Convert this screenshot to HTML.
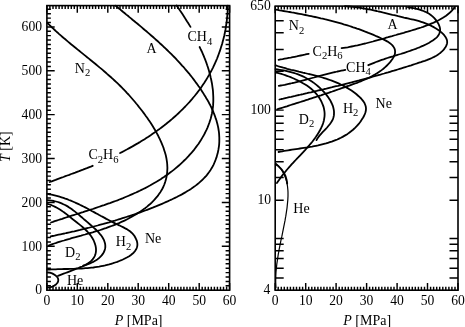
<!DOCTYPE html>
<html lang="en"><head><meta charset="utf-8"><title>Inversion curves</title>
<style>html,body{margin:0;padding:0;background:#fff}svg{display:block}</style></head>
<body><svg width="465" height="327" viewBox="0 0 465 327">
<rect width="465" height="327" fill="#fff"/>
<g stroke="#000" fill="none">
<rect x="46.9" y="5.6" width="182.7" height="284.6" stroke-width="1.6"/>
<rect x="275.2" y="6.1" width="182.8" height="284.1" stroke-width="1.6"/>
<path stroke-width="1.45" d="M46.9 290.2L46.9 283.0M46.9 5.6L46.9 12.8M49.9 290.2L49.9 286.7M49.9 5.6L49.9 9.1M53.0 290.2L53.0 286.7M53.0 5.6L53.0 9.1M56.0 290.2L56.0 286.7M56.0 5.6L56.0 9.1M59.1 290.2L59.1 286.7M59.1 5.6L59.1 9.1M62.1 290.2L62.1 286.7M62.1 5.6L62.1 9.1M65.2 290.2L65.2 286.7M65.2 5.6L65.2 9.1M68.2 290.2L68.2 286.7M68.2 5.6L68.2 9.1M71.3 290.2L71.3 286.7M71.3 5.6L71.3 9.1M74.3 290.2L74.3 286.7M74.3 5.6L74.3 9.1M77.3 290.2L77.3 283.0M77.3 5.6L77.3 12.8M80.4 290.2L80.4 286.7M80.4 5.6L80.4 9.1M83.4 290.2L83.4 286.7M83.4 5.6L83.4 9.1M86.5 290.2L86.5 286.7M86.5 5.6L86.5 9.1M89.5 290.2L89.5 286.7M89.5 5.6L89.5 9.1M92.6 290.2L92.6 286.7M92.6 5.6L92.6 9.1M95.6 290.2L95.6 286.7M95.6 5.6L95.6 9.1M98.7 290.2L98.7 286.7M98.7 5.6L98.7 9.1M101.7 290.2L101.7 286.7M101.7 5.6L101.7 9.1M104.8 290.2L104.8 286.7M104.8 5.6L104.8 9.1M107.8 290.2L107.8 283.0M107.8 5.6L107.8 12.8M110.8 290.2L110.8 286.7M110.8 5.6L110.8 9.1M113.9 290.2L113.9 286.7M113.9 5.6L113.9 9.1M116.9 290.2L116.9 286.7M116.9 5.6L116.9 9.1M120.0 290.2L120.0 286.7M120.0 5.6L120.0 9.1M123.0 290.2L123.0 286.7M123.0 5.6L123.0 9.1M126.1 290.2L126.1 286.7M126.1 5.6L126.1 9.1M129.1 290.2L129.1 286.7M129.1 5.6L129.1 9.1M132.2 290.2L132.2 286.7M132.2 5.6L132.2 9.1M135.2 290.2L135.2 286.7M135.2 5.6L135.2 9.1M138.2 290.2L138.2 283.0M138.2 5.6L138.2 12.8M141.3 290.2L141.3 286.7M141.3 5.6L141.3 9.1M144.3 290.2L144.3 286.7M144.3 5.6L144.3 9.1M147.4 290.2L147.4 286.7M147.4 5.6L147.4 9.1M150.4 290.2L150.4 286.7M150.4 5.6L150.4 9.1M153.5 290.2L153.5 286.7M153.5 5.6L153.5 9.1M156.5 290.2L156.5 286.7M156.5 5.6L156.5 9.1M159.6 290.2L159.6 286.7M159.6 5.6L159.6 9.1M162.6 290.2L162.6 286.7M162.6 5.6L162.6 9.1M165.7 290.2L165.7 286.7M165.7 5.6L165.7 9.1M168.7 290.2L168.7 283.0M168.7 5.6L168.7 12.8M171.7 290.2L171.7 286.7M171.7 5.6L171.7 9.1M174.8 290.2L174.8 286.7M174.8 5.6L174.8 9.1M177.8 290.2L177.8 286.7M177.8 5.6L177.8 9.1M180.9 290.2L180.9 286.7M180.9 5.6L180.9 9.1M183.9 290.2L183.9 286.7M183.9 5.6L183.9 9.1M187.0 290.2L187.0 286.7M187.0 5.6L187.0 9.1M190.0 290.2L190.0 286.7M190.0 5.6L190.0 9.1M193.1 290.2L193.1 286.7M193.1 5.6L193.1 9.1M196.1 290.2L196.1 286.7M196.1 5.6L196.1 9.1M199.2 290.2L199.2 283.0M199.2 5.6L199.2 12.8M202.2 290.2L202.2 286.7M202.2 5.6L202.2 9.1M205.2 290.2L205.2 286.7M205.2 5.6L205.2 9.1M208.3 290.2L208.3 286.7M208.3 5.6L208.3 9.1M211.3 290.2L211.3 286.7M211.3 5.6L211.3 9.1M214.4 290.2L214.4 286.7M214.4 5.6L214.4 9.1M217.4 290.2L217.4 286.7M217.4 5.6L217.4 9.1M220.5 290.2L220.5 286.7M220.5 5.6L220.5 9.1M223.5 290.2L223.5 286.7M223.5 5.6L223.5 9.1M226.6 290.2L226.6 286.7M226.6 5.6L226.6 9.1M229.6 290.2L229.6 283.0M229.6 5.6L229.6 12.8M275.2 290.2L275.2 283.0M275.2 6.1L275.2 13.3M278.2 290.2L278.2 286.7M278.2 6.1L278.2 9.6M281.3 290.2L281.3 286.7M281.3 6.1L281.3 9.6M284.3 290.2L284.3 286.7M284.3 6.1L284.3 9.6M287.4 290.2L287.4 286.7M287.4 6.1L287.4 9.6M290.4 290.2L290.4 286.7M290.4 6.1L290.4 9.6M293.5 290.2L293.5 286.7M293.5 6.1L293.5 9.6M296.5 290.2L296.5 286.7M296.5 6.1L296.5 9.6M299.6 290.2L299.6 286.7M299.6 6.1L299.6 9.6M302.6 290.2L302.6 286.7M302.6 6.1L302.6 9.6M305.7 290.2L305.7 283.0M305.7 6.1L305.7 13.3M308.7 290.2L308.7 286.7M308.7 6.1L308.7 9.6M311.8 290.2L311.8 286.7M311.8 6.1L311.8 9.6M314.8 290.2L314.8 286.7M314.8 6.1L314.8 9.6M317.9 290.2L317.9 286.7M317.9 6.1L317.9 9.6M320.9 290.2L320.9 286.7M320.9 6.1L320.9 9.6M323.9 290.2L323.9 286.7M323.9 6.1L323.9 9.6M327.0 290.2L327.0 286.7M327.0 6.1L327.0 9.6M330.0 290.2L330.0 286.7M330.0 6.1L330.0 9.6M333.1 290.2L333.1 286.7M333.1 6.1L333.1 9.6M336.1 290.2L336.1 283.0M336.1 6.1L336.1 13.3M339.2 290.2L339.2 286.7M339.2 6.1L339.2 9.6M342.2 290.2L342.2 286.7M342.2 6.1L342.2 9.6M345.3 290.2L345.3 286.7M345.3 6.1L345.3 9.6M348.3 290.2L348.3 286.7M348.3 6.1L348.3 9.6M351.4 290.2L351.4 286.7M351.4 6.1L351.4 9.6M354.4 290.2L354.4 286.7M354.4 6.1L354.4 9.6M357.5 290.2L357.5 286.7M357.5 6.1L357.5 9.6M360.5 290.2L360.5 286.7M360.5 6.1L360.5 9.6M363.6 290.2L363.6 286.7M363.6 6.1L363.6 9.6M366.6 290.2L366.6 283.0M366.6 6.1L366.6 13.3M369.6 290.2L369.6 286.7M369.6 6.1L369.6 9.6M372.7 290.2L372.7 286.7M372.7 6.1L372.7 9.6M375.7 290.2L375.7 286.7M375.7 6.1L375.7 9.6M378.8 290.2L378.8 286.7M378.8 6.1L378.8 9.6M381.8 290.2L381.8 286.7M381.8 6.1L381.8 9.6M384.9 290.2L384.9 286.7M384.9 6.1L384.9 9.6M387.9 290.2L387.9 286.7M387.9 6.1L387.9 9.6M391.0 290.2L391.0 286.7M391.0 6.1L391.0 9.6M394.0 290.2L394.0 286.7M394.0 6.1L394.0 9.6M397.1 290.2L397.1 283.0M397.1 6.1L397.1 13.3M400.1 290.2L400.1 286.7M400.1 6.1L400.1 9.6M403.2 290.2L403.2 286.7M403.2 6.1L403.2 9.6M406.2 290.2L406.2 286.7M406.2 6.1L406.2 9.6M409.3 290.2L409.3 286.7M409.3 6.1L409.3 9.6M412.3 290.2L412.3 286.7M412.3 6.1L412.3 9.6M415.3 290.2L415.3 286.7M415.3 6.1L415.3 9.6M418.4 290.2L418.4 286.7M418.4 6.1L418.4 9.6M421.4 290.2L421.4 286.7M421.4 6.1L421.4 9.6M424.5 290.2L424.5 286.7M424.5 6.1L424.5 9.6M427.5 290.2L427.5 283.0M427.5 6.1L427.5 13.3M430.6 290.2L430.6 286.7M430.6 6.1L430.6 9.6M433.6 290.2L433.6 286.7M433.6 6.1L433.6 9.6M436.7 290.2L436.7 286.7M436.7 6.1L436.7 9.6M439.7 290.2L439.7 286.7M439.7 6.1L439.7 9.6M442.8 290.2L442.8 286.7M442.8 6.1L442.8 9.6M445.8 290.2L445.8 286.7M445.8 6.1L445.8 9.6M448.9 290.2L448.9 286.7M448.9 6.1L448.9 9.6M451.9 290.2L451.9 286.7M451.9 6.1L451.9 9.6M455.0 290.2L455.0 286.7M455.0 6.1L455.0 9.6M458.0 290.2L458.0 283.0M458.0 6.1L458.0 13.3M46.9 285.8L50.9 285.8M229.6 285.8L225.6 285.8M46.9 281.4L50.9 281.4M229.6 281.4L225.6 281.4M46.9 277.0L50.9 277.0M229.6 277.0L225.6 277.0M46.9 272.6L50.9 272.6M229.6 272.6L225.6 272.6M46.9 268.2L50.9 268.2M229.6 268.2L225.6 268.2M46.9 263.8L50.9 263.8M229.6 263.8L225.6 263.8M46.9 259.4L50.9 259.4M229.6 259.4L225.6 259.4M46.9 255.0L50.9 255.0M229.6 255.0L225.6 255.0M46.9 250.7L50.9 250.7M229.6 250.7L225.6 250.7M46.9 246.3L54.7 246.3M229.6 246.3L221.8 246.3M46.9 241.9L50.9 241.9M229.6 241.9L225.6 241.9M46.9 237.5L50.9 237.5M229.6 237.5L225.6 237.5M46.9 233.1L50.9 233.1M229.6 233.1L225.6 233.1M46.9 228.7L50.9 228.7M229.6 228.7L225.6 228.7M46.9 224.3L50.9 224.3M229.6 224.3L225.6 224.3M46.9 219.9L50.9 219.9M229.6 219.9L225.6 219.9M46.9 215.6L50.9 215.6M229.6 215.6L225.6 215.6M46.9 211.2L50.9 211.2M229.6 211.2L225.6 211.2M46.9 206.8L50.9 206.8M229.6 206.8L225.6 206.8M46.9 202.4L54.7 202.4M229.6 202.4L221.8 202.4M46.9 198.0L50.9 198.0M229.6 198.0L225.6 198.0M46.9 193.6L50.9 193.6M229.6 193.6L225.6 193.6M46.9 189.2L50.9 189.2M229.6 189.2L225.6 189.2M46.9 184.8L50.9 184.8M229.6 184.8L225.6 184.8M46.9 180.4L50.9 180.4M229.6 180.4L225.6 180.4M46.9 176.1L50.9 176.1M229.6 176.1L225.6 176.1M46.9 171.7L50.9 171.7M229.6 171.7L225.6 171.7M46.9 167.3L50.9 167.3M229.6 167.3L225.6 167.3M46.9 162.9L50.9 162.9M229.6 162.9L225.6 162.9M46.9 158.5L54.7 158.5M229.6 158.5L221.8 158.5M46.9 154.1L50.9 154.1M229.6 154.1L225.6 154.1M46.9 149.7L50.9 149.7M229.6 149.7L225.6 149.7M46.9 145.3L50.9 145.3M229.6 145.3L225.6 145.3M46.9 141.0L50.9 141.0M229.6 141.0L225.6 141.0M46.9 136.6L50.9 136.6M229.6 136.6L225.6 136.6M46.9 132.2L50.9 132.2M229.6 132.2L225.6 132.2M46.9 127.8L50.9 127.8M229.6 127.8L225.6 127.8M46.9 123.4L50.9 123.4M229.6 123.4L225.6 123.4M46.9 119.0L50.9 119.0M229.6 119.0L225.6 119.0M46.9 114.6L54.7 114.6M229.6 114.6L221.8 114.6M46.9 110.2L50.9 110.2M229.6 110.2L225.6 110.2M46.9 105.9L50.9 105.9M229.6 105.9L225.6 105.9M46.9 101.5L50.9 101.5M229.6 101.5L225.6 101.5M46.9 97.1L50.9 97.1M229.6 97.1L225.6 97.1M46.9 92.7L50.9 92.7M229.6 92.7L225.6 92.7M46.9 88.3L50.9 88.3M229.6 88.3L225.6 88.3M46.9 83.9L50.9 83.9M229.6 83.9L225.6 83.9M46.9 79.5L50.9 79.5M229.6 79.5L225.6 79.5M46.9 75.1L50.9 75.1M229.6 75.1L225.6 75.1M46.9 70.7L54.7 70.7M229.6 70.7L221.8 70.7M46.9 66.4L50.9 66.4M229.6 66.4L225.6 66.4M46.9 62.0L50.9 62.0M229.6 62.0L225.6 62.0M46.9 57.6L50.9 57.6M229.6 57.6L225.6 57.6M46.9 53.2L50.9 53.2M229.6 53.2L225.6 53.2M46.9 48.8L50.9 48.8M229.6 48.8L225.6 48.8M46.9 44.4L50.9 44.4M229.6 44.4L225.6 44.4M46.9 40.0L50.9 40.0M229.6 40.0L225.6 40.0M46.9 35.6L50.9 35.6M229.6 35.6L225.6 35.6M46.9 31.3L50.9 31.3M229.6 31.3L225.6 31.3M46.9 26.9L54.7 26.9M229.6 26.9L221.8 26.9M46.9 22.5L50.9 22.5M229.6 22.5L225.6 22.5M46.9 18.1L50.9 18.1M229.6 18.1L225.6 18.1M46.9 13.7L50.9 13.7M229.6 13.7L225.6 13.7M46.9 9.3L50.9 9.3M229.6 9.3L225.6 9.3M275.2 20.8L283.7 20.8M458.0 20.8L449.5 20.8M275.2 32.7L283.7 32.7M458.0 32.7L449.5 32.7M275.2 49.5L283.7 49.5M458.0 49.5L449.5 49.5M275.2 71.2L283.7 71.2M458.0 71.2L449.5 71.2M275.2 110.1L283.7 110.1M458.0 110.1L449.5 110.1M275.2 116.3L283.7 116.3M458.0 116.3L449.5 116.3M275.2 123.2L283.7 123.2M458.0 123.2L449.5 123.2M275.2 130.6L283.7 130.6M458.0 130.6L449.5 130.6M275.2 139.2L283.7 139.2M458.0 139.2L449.5 139.2M275.2 149.7L283.7 149.7M458.0 149.7L449.5 149.7M275.2 161.8L283.7 161.8M458.0 161.8L449.5 161.8M275.2 177.5L283.7 177.5M458.0 177.5L449.5 177.5M275.2 200.3L283.7 200.3M458.0 200.3L449.5 200.3M275.2 238.5L283.7 238.5M458.0 238.5L449.5 238.5M275.2 244.2L283.7 244.2M458.0 244.2L449.5 244.2M275.2 250.8L283.7 250.8M458.0 250.8L449.5 250.8M275.2 258.5L283.7 258.5M458.0 258.5L449.5 258.5M275.2 268.2L283.7 268.2M458.0 268.2L449.5 268.2M275.2 278.0L283.7 278.0M458.0 278.0L449.5 278.0"/>
</g>
<g stroke="#000" fill="none" stroke-width="1.8" stroke-linecap="round" stroke-linejoin="round">
<path d="M47.5 23.2L49.0 24.6L50.4 25.9L51.8 27.3L53.3 28.7L54.7 30.0L56.2 31.4L57.7 32.7L59.2 34.1L60.7 35.4L62.2 36.7L63.7 38.0L65.3 39.3L66.8 40.6L68.3 41.9L69.9 43.2L71.4 44.5L73.0 45.8L74.5 47.0L76.1 48.3L77.7 49.6L79.2 50.8L80.8 52.1L82.4 53.4L83.9 54.6L85.5 55.9L87.1 57.2L88.6 58.4L90.2 59.7L91.8 61.0L93.3 62.2L94.9 63.5L96.4 64.8L98.0 66.1L99.5 67.4L101.1 68.6L102.6 69.9L104.1 71.2L105.6 72.5L107.1 73.9L108.6 75.2L110.1 76.5L111.6 77.8L113.1 79.2L114.5 80.5L116.0 81.9L117.4 83.2L118.9 84.6L120.3 86.0L121.7 87.4L123.1 88.8L124.4 90.2L125.8 91.6L127.1 93.1L128.5 94.5L129.8 96.0L131.1 97.5L132.4 99.0L133.7 100.5L135.0 102.0L136.2 103.5L137.5 105.0L138.7 106.6L140.0 108.2L141.2 109.7L142.4 111.3L143.6 112.9L144.8 114.5L146.0 116.2L147.2 117.8L148.3 119.5L149.4 121.1L150.6 122.8L151.7 124.5L152.8 126.3L153.8 128.0L154.9 129.8L155.9 131.6L156.9 133.4L157.9 135.2L158.8 137.1L159.7 138.9L160.6 140.8L161.4 142.7L162.2 144.6L163.0 146.5L163.7 148.4L164.3 150.4L164.9 152.3L165.5 154.3L166.0 156.2L166.4 158.2L166.7 160.1L167.0 162.1L167.2 164.0L167.3 166.0L167.4 167.9L167.3 169.9L167.2 171.8L167.0 173.8L166.7 175.7L166.4 177.6L165.9 179.5L165.4 181.3L164.8 183.2L164.1 185.0L163.3 186.8L162.5 188.5L161.5 190.2L160.5 191.9L159.4 193.5L158.3 195.1L157.1 196.7L155.8 198.2L154.5 199.7L153.1 201.2L151.7 202.6L150.2 204.0L148.6 205.3L147.1 206.6L145.5 207.9L143.8 209.1L142.2 210.3L140.5 211.5L138.7 212.6L137.0 213.7L135.3 214.8L133.5 215.8L131.7 216.8L129.9 217.8L128.1 218.8L126.3 219.7L124.5 220.6L122.7 221.4L120.8 222.2L119.0 223.1L117.1 223.8L115.3 224.6L113.4 225.3L111.6 226.0L109.7 226.7L107.8 227.4L105.9 228.1L104.0 228.7L102.2 229.3L100.3 230.0L98.4 230.6L96.5 231.1L94.6 231.7L92.7 232.3L90.8 232.8L88.9 233.4L87.0 233.9L85.1 234.5L83.1 235.0L81.2 235.6L79.3 236.1L77.4 236.6L75.5 237.2L73.6 237.7L71.6 238.2L69.7 238.8L67.8 239.3L65.9 239.9L64.0 240.5L62.0 241.0L60.1 241.6L58.2 242.2L56.3 242.9L54.3 243.5L52.4 244.1L50.5 244.8L48.6 245.5"/>
<path d="M115.4 5.6L117.0 6.9L118.6 8.2L120.1 9.4L121.7 10.7L123.2 12.0L124.8 13.3L126.3 14.6L127.9 15.8L129.4 17.1L131.0 18.4L132.5 19.7L134.1 21.0L135.6 22.3L137.2 23.5L138.7 24.8L140.3 26.1L141.8 27.4L143.3 28.7L144.8 30.0L146.4 31.3L147.9 32.6L149.4 33.9L150.9 35.2L152.4 36.5L153.9 37.8L155.4 39.2L156.9 40.5L158.4 41.8L159.8 43.2L161.3 44.5L162.8 45.9L164.2 47.3L165.7 48.6L167.1 50.0L168.5 51.4L170.0 52.8L171.4 54.2L172.8 55.6L174.2 57.0L175.6 58.4L176.9 59.9L178.3 61.3L179.7 62.8L181.0 64.3L182.3 65.8L183.7 67.2L185.0 68.8L186.3 70.3L187.6 71.8L188.9 73.3L190.1 74.9L191.4 76.5L192.6 78.0L193.8 79.6L195.0 81.2L196.2 82.9L197.4 84.5L198.6 86.2L199.8 87.8L200.9 89.5L202.0 91.2L203.1 92.9L204.2 94.7L205.3 96.4L206.3 98.2L207.4 99.9L208.4 101.7L209.3 103.5L210.3 105.3L211.2 107.2L212.0 109.0L212.9 110.9L213.6 112.7L214.4 114.6L215.1 116.5L215.7 118.4L216.4 120.3L216.9 122.2L217.4 124.1L217.9 126.1L218.3 128.0L218.6 130.0L218.9 131.9L219.1 133.9L219.2 135.9L219.3 137.8L219.3 139.8L219.3 141.8L219.2 143.8L219.0 145.8L218.7 147.8L218.4 149.7L218.0 151.7L217.6 153.6L217.0 155.5L216.5 157.4L215.8 159.3L215.1 161.2L214.3 163.0L213.5 164.8L212.6 166.5L211.6 168.2L210.6 169.9L209.5 171.5L208.4 173.0L207.2 174.6L206.0 176.1L204.6 177.5L203.3 178.9L201.9 180.3L200.4 181.6L199.0 182.9L197.4 184.2L195.9 185.4L194.3 186.6L192.6 187.7L191.0 188.9L189.3 190.0L187.5 191.0L185.8 192.1L184.0 193.1L182.3 194.1L180.5 195.1L178.6 196.0L176.8 197.0L175.0 197.9L173.1 198.8L171.3 199.7L169.4 200.5L167.6 201.4L165.7 202.2L163.9 203.0L162.0 203.8L160.1 204.6L158.3 205.4L156.4 206.2L154.6 206.9L152.7 207.7L150.8 208.4L148.9 209.1L147.1 209.8L145.2 210.5L143.3 211.2L141.4 211.9L139.6 212.6L137.7 213.2L135.8 213.9L133.9 214.5L132.0 215.2L130.1 215.8L128.2 216.4L126.3 217.0L124.4 217.6L122.5 218.2L120.6 218.8L118.7 219.4L116.8 220.0L114.9 220.6L113.0 221.1L111.1 221.7L109.2 222.3L107.2 222.8L105.3 223.3L103.4 223.9L101.5 224.4L99.5 224.9L97.6 225.5L95.7 226.0L93.7 226.5L91.8 227.0L89.9 227.5L87.9 228.0L86.0 228.4L84.0 228.9L82.1 229.4L80.1 229.9L78.2 230.3L76.2 230.8L74.3 231.3L72.3 231.7L70.4 232.2L68.4 232.6L66.4 233.0L64.5 233.5L62.5 233.9L60.5 234.3L58.6 234.7L56.6 235.1L54.6 235.6L52.7 236.0L50.7 236.4"/>
<path d="M176.6 5.5L177.8 7.3L179.0 9.0L180.2 10.8L181.4 12.5L182.6 14.3L183.7 16.1L184.9 17.9L186.0 19.7L187.1 21.5L188.3 23.3L189.4 25.1L190.5 26.9"/>
<path d="M199.6 47.0L200.4 48.7L201.3 50.5L202.1 52.2L202.9 54.1L203.7 55.9L204.4 57.7L205.2 59.6L205.9 61.5L206.6 63.4L207.2 65.3L207.9 67.3L208.5 69.2L209.1 71.2L209.6 73.2L210.2 75.2L210.6 77.2L211.1 79.2L211.5 81.2L211.9 83.2L212.2 85.2L212.5 87.3L212.8 89.3L213.0 91.3L213.1 93.3L213.2 95.3L213.3 97.4L213.3 99.4L213.3 101.4L213.2 103.4L213.1 105.4L212.9 107.3L212.6 109.3L212.3 111.2L212.0 113.2L211.6 115.1L211.1 117.0L210.6 118.9L210.0 120.8L209.4 122.6L208.7 124.5L208.0 126.3L207.3 128.1L206.5 129.9L205.6 131.7L204.7 133.5L203.8 135.2L202.8 136.9L201.8 138.6L200.8 140.3L199.7 142.0L198.6 143.7L197.4 145.3L196.2 146.9L195.0 148.5L193.8 150.1L192.5 151.6L191.2 153.2L189.8 154.7L188.5 156.2L187.1 157.7L185.7 159.1L184.2 160.5L182.8 161.9L181.3 163.3L179.8 164.7L178.3 166.0L176.8 167.3L175.2 168.6L173.7 169.9L172.1 171.1L170.5 172.3L168.9 173.5L167.3 174.7L165.6 175.8L164.0 177.0L162.3 178.1L160.7 179.2L159.0 180.2L157.3 181.3L155.6 182.3L153.8 183.3L152.1 184.3L150.4 185.3L148.6 186.2L146.8 187.2L145.1 188.1L143.3 189.0L141.5 189.9L139.7 190.8L137.9 191.6L136.0 192.5L134.2 193.3L132.4 194.1L130.5 194.9L128.7 195.7L126.8 196.5L125.0 197.3L123.1 198.1L121.2 198.8L119.4 199.5L117.5 200.3L115.6 201.0L113.7 201.7L111.8 202.4L109.9 203.1L108.0 203.7L106.1 204.4L104.2 205.1L102.3 205.7L100.3 206.4L98.4 207.0L96.5 207.7L94.6 208.3L92.7 209.0L90.8 209.6L88.8 210.2L86.9 210.8L85.0 211.4L83.1 212.1L81.2 212.7L79.3 213.3L77.4 213.9L75.5 214.5L73.6 215.1L71.6 215.7L69.7 216.3L67.9 216.9L66.0 217.5L64.1 218.1L62.2 218.8L60.3 219.4L58.4 220.0L56.6 220.6L54.7 221.2L52.9 221.9L51.0 222.5"/>
<path d="M227.8 5.6L227.8 7.6L227.7 9.6L227.6 11.6L227.5 13.6L227.3 15.6L227.1 17.6L226.9 19.6L226.7 21.6L226.4 23.6L226.1 25.6L225.8 27.6L225.5 29.5L225.1 31.5L224.7 33.5L224.3 35.5L223.8 37.4L223.3 39.4L222.8 41.3L222.3 43.3L221.7 45.2L221.1 47.1L220.5 49.0L219.9 50.9L219.2 52.8L218.5 54.7L217.8 56.6L217.1 58.5L216.3 60.3L215.5 62.2L214.7 64.0L213.8 65.8L213.0 67.6L212.1 69.4L211.1 71.2L210.2 72.9L209.2 74.7L208.2 76.4L207.2 78.1L206.2 79.8L205.1 81.5L204.0 83.2L202.9 84.8L201.8 86.5L200.7 88.1L199.5 89.7L198.3 91.3L197.1 92.9L195.8 94.5L194.6 96.0L193.3 97.5L192.0 99.1L190.7 100.6L189.4 102.1L188.1 103.5L186.7 105.0L185.3 106.5L183.9 107.9L182.5 109.3L181.1 110.7L179.6 112.1L178.2 113.5L176.7 114.9L175.2 116.2L173.7 117.5L172.2 118.9L170.6 120.2L169.1 121.5L167.5 122.7L166.0 124.0L164.4 125.3L162.8 126.5L161.2 127.7L159.6 128.9L157.9 130.1L156.3 131.3L154.6 132.5L153.0 133.6L151.3 134.8L149.6 135.9L148.0 137.0L146.3 138.1L144.6 139.2L142.8 140.3L141.1 141.3L139.4 142.4L137.7 143.4L135.9 144.4L134.2 145.4L132.5 146.4L130.7 147.4L128.9 148.4L127.2 149.3L125.4 150.2L123.6 151.2L121.9 152.1L120.1 153.0"/>
<path d="M92.7 165.8L90.8 166.6L88.8 167.3L86.9 168.1L84.9 168.8L83.0 169.6L81.0 170.3L79.1 171.1L77.1 171.8L75.2 172.6L73.2 173.3L71.2 174.0L69.3 174.8L67.3 175.5L65.4 176.2L63.4 177.0L61.5 177.7L59.5 178.4L57.5 179.1L55.6 179.9L53.6 180.6L51.7 181.3L49.7 182.0"/>
<path d="M47.5 193.9L49.5 194.3L51.6 194.7L53.6 195.1L55.6 195.6L57.6 196.1L59.5 196.7L61.5 197.3L63.4 197.9L65.3 198.6L67.1 199.2L69.0 200.0L70.8 200.7L72.7 201.5L74.5 202.3L76.3 203.1L78.1 203.9L79.9 204.8L81.6 205.6L83.4 206.5L85.2 207.4L86.9 208.3L88.7 209.3L90.4 210.2L92.2 211.2L94.0 212.1L95.7 213.1L97.5 214.0L99.2 215.0L101.0 216.0L102.8 216.9L104.6 217.9L106.3 218.9L108.1 219.8L110.0 220.8L111.8 221.7L113.6 222.6L115.5 223.6L117.3 224.5L119.2 225.3L121.1 226.2L123.0 227.1L124.8 228.1L126.7 229.1L128.4 230.2L130.0 231.3L131.6 232.7L133.0 234.1L134.3 235.7L135.3 237.5L136.2 239.3L136.9 241.1L137.3 243.0L137.4 244.8L137.2 246.5L136.7 248.1L136.0 249.6L135.0 251.1L133.8 252.5L132.4 253.8L130.9 255.0L129.2 256.2L127.3 257.3L125.4 258.3L123.4 259.3L121.4 260.2L119.3 261.0L117.3 261.8L115.2 262.5L113.2 263.2L111.2 263.8L109.2 264.4L107.2 264.9L105.2 265.4L103.2 265.8L101.2 266.2L99.2 266.6L97.3 266.9L95.3 267.2L93.4 267.5L91.4 267.7L89.5 267.9L87.5 268.1L85.6 268.2L83.6 268.4L81.7 268.5L79.7 268.6L77.8 268.7L75.8 268.7L73.8 268.8L71.9 268.9L69.9 268.9L67.9 269.0L65.9 269.0L63.9 269.0L61.9 269.1L59.8 269.1L57.8 269.2L55.7 269.3L53.7 269.3L51.6 269.4L49.5 269.5L47.4 269.6"/>
<path d="M47.4 200.2L49.7 200.4L51.8 200.6L53.9 201.0L55.9 201.5L57.9 202.0L59.7 202.7L61.6 203.4L63.3 204.2L65.1 205.0L66.7 205.9L68.4 206.9L70.0 208.0L71.6 209.1L73.1 210.2L74.7 211.4L76.2 212.6L77.8 213.9L79.3 215.1L80.8 216.5L82.4 217.8L83.9 219.2L85.5 220.5L87.1 221.9L88.7 223.3L90.4 224.7L92.0 226.1L93.6 227.6L95.2 229.0L96.8 230.5L98.3 232.0L99.6 233.6L100.9 235.1L102.1 236.8L103.1 238.5L104.0 240.2L104.6 242.0L105.1 243.7L105.3 245.5L105.3 247.3L105.0 249.0L104.5 250.7L103.8 252.3L102.8 253.9L101.7 255.4L100.3 256.8L98.9 258.2L97.3 259.4L95.6 260.5L93.8 261.6L91.9 262.5L90.0 263.4L88.0 264.2L86.1 265.0L84.1 265.7L82.2 266.5L80.3 267.2L78.4 268.0L76.5 268.7L74.7 269.4L72.8 270.2L71.0 270.9L69.2 271.6L67.3 272.3L65.5 273.0L63.6 273.7L61.8 274.4L59.9 275.1L58.0 275.8"/>
<path d="M47.5 203.9L49.5 204.5L51.5 205.2L53.3 206.0L55.2 206.9L56.9 207.8L58.6 208.8L60.3 209.8L62.0 210.9L63.6 212.1L65.2 213.2L66.8 214.4L68.4 215.7L70.0 216.9L71.5 218.2L73.1 219.5L74.7 220.7L76.3 222.0L77.9 223.3L79.6 224.6L81.2 225.9L82.8 227.2L84.3 228.6L85.8 230.0L87.3 231.5L88.7 233.0L90.0 234.6L91.2 236.2L92.3 238.0L93.3 239.7L94.1 241.5L94.8 243.4L95.4 245.2L95.8 247.1L96.0 248.9L96.0 250.8L95.8 252.6L95.4 254.4L94.7 256.1L93.8 257.8L92.6 259.4L91.3 260.9L89.6 262.3L87.7 263.6L85.6 264.8L83.3 265.7"/>
<path d="M47.6 272.3L49.9 272.7L52.1 273.4L54.0 274.4L55.7 275.6L57.1 276.9L58.0 278.4L58.3 280.0L58.1 281.5L57.3 283.0L56.0 284.4L54.3 285.6L52.3 286.6L50.0 287.3L47.6 287.5"/>
<path d="M275.5 9.6L277.6 9.9L279.6 10.3L281.6 10.6L283.6 11.0L285.6 11.3L287.6 11.7L289.6 12.0L291.6 12.4L293.6 12.7L295.6 13.1L297.6 13.5L299.5 13.8L301.5 14.2L303.4 14.6L305.4 15.0L307.3 15.4L309.3 15.8L311.2 16.2L313.1 16.6L315.1 17.0L317.0 17.4L318.9 17.8L320.8 18.3L322.7 18.7L324.6 19.2L326.6 19.6L328.5 20.1L330.4 20.6L332.3 21.1L334.2 21.6L336.1 22.1L338.0 22.6L339.9 23.1L341.8 23.7L343.7 24.3L345.6 24.8L347.5 25.4L349.4 26.0L351.3 26.6L353.2 27.3L355.1 27.9L357.0 28.6L358.9 29.2L360.8 29.9L362.7 30.6L364.6 31.4L366.5 32.1L368.4 32.9L370.4 33.6L372.3 34.4L374.2 35.2L376.2 36.1L378.1 36.9L380.0 37.8L382.0 38.7L383.9 39.6L385.8 40.6L387.6 41.6L389.3 42.7L390.8 43.9L392.2 45.2L393.4 46.6L394.3 48.1L394.9 49.8L395.1 51.5L395.0 53.2L394.6 54.9L393.8 56.7L392.8 58.4L391.7 60.0L390.5 61.6L389.2 63.2L387.8 64.6L386.4 66.0L384.9 67.4L383.4 68.7L381.9 69.9L380.3 71.1L378.6 72.2L377.0 73.3L375.3 74.3L373.5 75.3L371.8 76.3L370.0 77.2L368.2 78.1L366.3 78.9L364.5 79.7L362.6 80.5L360.7 81.3L358.9 82.0L357.0 82.8L355.1 83.5L353.1 84.2L351.2 84.9L349.3 85.6L347.4 86.2L345.5 86.9L343.6 87.6L341.7 88.2L339.8 88.9L338.0 89.5L336.1 90.2L334.2 90.8L332.3 91.5L330.4 92.1L328.5 92.8L326.7 93.4L324.8 94.0L322.9 94.6L321.0 95.3L319.1 95.9L317.3 96.5L315.4 97.1L313.5 97.7L311.6 98.3L309.7 98.9L307.8 99.6L305.9 100.2L304.1 100.8L302.2 101.4L300.3 102.0L298.4 102.6L296.5 103.2L294.5 103.8L292.6 104.4L290.7 105.0L288.8 105.6L286.9 106.3L284.9 106.9L283.0 107.5L281.1 108.1L279.1 108.7L277.1 109.3"/>
<path d="M345.0 6.2L347.0 6.4L349.0 6.5L351.0 6.7L352.9 6.9L354.9 7.1L356.9 7.3L358.9 7.6L360.8 7.9L362.8 8.3L364.8 8.6L366.8 9.0L368.8 9.3L370.7 9.7L372.7 10.1L374.7 10.6L376.7 11.0L378.6 11.5L380.6 11.9L382.6 12.4L384.5 12.8L386.5 13.3L388.4 13.8L390.4 14.3L392.4 14.8L394.3 15.2L396.3 15.7L398.2 16.2L400.1 16.6L402.1 17.1L404.0 17.6L405.9 18.0L407.8 18.4L409.7 18.9L411.7 19.3L413.6 19.7L415.5 20.2L417.4 20.7L419.2 21.2L421.1 21.8L423.0 22.4L424.9 23.1L426.8 23.8L428.6 24.6L430.5 25.4L432.3 26.4L434.2 27.4L436.0 28.5L437.9 29.7L439.7 31.0L441.4 32.4L443.0 33.9L444.4 35.4L445.5 37.0L446.4 38.6L447.0 40.3L447.2 42.0L447.0 43.7L446.4 45.4L445.6 47.0L444.5 48.6L443.3 50.1L442.0 51.4L440.6 52.7L439.0 53.9L437.5 55.0L435.8 56.0L434.1 56.9L432.3 57.8L430.5 58.6L428.6 59.3L426.7 60.1L424.8 60.8L422.9 61.4L420.9 62.1L419.0 62.7L417.0 63.4L415.1 64.0L413.1 64.6L411.2 65.3L409.3 65.9L407.3 66.5L405.4 67.1L403.5 67.7L401.5 68.3L399.6 68.9L397.7 69.5L395.8 70.1L393.8 70.7L391.9 71.2L390.0 71.8L388.1 72.4L386.1 72.9L384.2 73.5L382.3 74.0L380.4 74.6L378.4 75.1L376.5 75.7L374.6 76.2L372.7 76.7L370.7 77.3L368.8 77.8L366.9 78.3L365.0 78.8L363.1 79.3L361.1 79.8L359.2 80.4L357.3 80.9L355.4 81.4L353.4 81.9L351.5 82.4L349.6 82.8L347.7 83.3L345.7 83.8L343.8 84.3L341.9 84.8L339.9 85.3L338.0 85.8L336.1 86.2L334.1 86.7L332.2 87.2L330.3 87.6L328.3 88.1L326.4 88.6L324.5 89.0L322.5 89.5L320.6 90.0L318.6 90.4L316.7 90.9L314.8 91.3L312.8 91.8L310.9 92.3L308.9 92.7L307.0 93.2L305.0 93.6L303.0 94.1L301.1 94.5L299.1 95.0L297.2 95.4L295.2 95.9L293.2 96.3L291.2 96.8L289.3 97.2L287.3 97.7L285.3 98.1L283.3 98.6L281.4 99.0L279.4 99.5"/>
<path d="M408.0 7.3L409.9 7.6L411.8 7.9L413.7 8.2L415.7 8.6L417.7 9.1L419.6 9.6L421.6 10.3L423.5 11.0L425.4 11.8L427.3 12.8L429.1 13.8L430.8 15.0L432.5 16.4L434.1 17.9L435.6 19.6L436.9 21.4L438.1 23.2L439.0 25.1L439.7 27.0L440.1 28.9L440.1 30.6L439.8 32.3L439.2 33.9L438.4 35.4L437.3 36.8L435.9 38.1L434.4 39.3L432.8 40.5L431.0 41.6L429.2 42.7L427.3 43.7L425.3 44.7L423.4 45.6L421.5 46.4L419.6 47.3L417.6 48.0L415.7 48.8L413.8 49.5L411.9 50.2L410.0 50.9L408.1 51.5L406.2 52.2L404.4 52.8L402.5 53.4L400.6 54.0L398.7 54.5L396.8 55.1L394.9 55.7L393.0 56.3L391.2 56.8L389.3 57.4L387.4 58.0L385.5 58.6L383.6 59.3L381.7 59.9L379.8 60.6L377.9 61.3L376.0 62.0L374.1 62.8L372.1 63.6L370.2 64.4L368.3 65.2"/>
<path d="M345.3 69.9L343.3 70.3L341.3 70.7L339.4 71.1L337.4 71.5L335.4 72.0L333.5 72.4L331.5 72.9L329.6 73.4L327.6 73.9L325.7 74.4L323.7 74.9L321.8 75.4L319.8 75.9L317.9 76.4L316.0 76.9L314.0 77.5L312.1 78.0L310.1 78.5L308.2 79.0L306.2 79.6L304.3 80.1L302.3 80.6L300.4 81.1L298.5 81.6L296.5 82.1L294.5 82.6L292.6 83.0L290.6 83.5L288.7 83.9L286.7 84.3L284.7 84.8L282.8 85.2L280.8 85.5L278.8 85.9"/>
<path d="M454.3 7.6L453.1 9.2L451.9 10.6L450.5 12.0L449.1 13.3L447.6 14.5L446.1 15.7L444.5 16.8L442.9 17.8L441.2 18.8L439.5 19.8L437.7 20.7L436.0 21.5L434.2 22.4L432.4 23.2L430.5 23.9L428.7 24.7L426.8 25.4L424.9 26.1L423.1 26.8L421.1 27.5L419.2 28.1L417.3 28.7L415.4 29.3L413.4 29.9L411.5 30.5L409.5 31.1L407.6 31.7L405.6 32.2L403.7 32.8L401.7 33.3L399.8 33.9L397.8 34.4L395.9 35.0L394.0 35.5L392.1 36.1L390.1 36.6L388.2 37.2L386.3 37.7L384.4 38.3L382.5 38.8L380.6 39.4L378.7 39.9L376.8 40.4L374.9 40.9L372.9 41.5L371.0 42.0L369.1 42.5L367.2 43.0L365.3 43.5L363.4 43.9L361.4 44.4L359.5 44.8L357.5 45.3L355.6 45.7L353.6 46.1L351.6 46.5L349.7 46.9L347.7 47.3L345.7 47.6L343.7 47.9L341.6 48.2"/>
<path d="M308.7 53.8L306.7 54.2L304.7 54.7L302.7 55.1L300.7 55.5L298.7 55.9L296.7 56.4L294.7 56.8L292.7 57.2L290.7 57.6L288.7 57.9L286.7 58.3L284.6 58.7L282.6 59.1L280.6 59.4L278.6 59.8"/>
<path d="M275.7 65.3L277.6 66.0L279.5 66.6L281.4 67.1L283.3 67.7L285.3 68.2L287.2 68.8L289.1 69.3L291.1 69.8L293.0 70.2L295.0 70.7L296.9 71.2L298.9 71.7L300.8 72.1L302.8 72.6L304.8 73.0L306.7 73.5L308.7 74.0L310.6 74.4L312.6 74.9L314.5 75.4L316.5 75.9L318.4 76.4L320.4 77.0L322.3 77.5L324.2 78.1L326.1 78.7L328.0 79.3L329.9 80.0L331.8 80.7L333.6 81.4L335.5 82.1L337.3 82.9L339.2 83.7L341.0 84.6L342.8 85.4L344.6 86.4L346.3 87.4L348.1 88.4L349.8 89.5L351.5 90.6L353.2 91.8L354.9 93.0L356.5 94.3L358.1 95.7L359.7 97.1L361.1 98.5L362.4 100.1L363.6 101.6L364.6 103.3L365.3 105.0L365.8 106.7L366.0 108.5L365.9 110.3L365.5 112.2L364.8 114.1L364.0 116.0L363.0 117.8L361.8 119.6L360.6 121.4L359.4 123.1L358.1 124.6L356.7 126.2L355.3 127.6L353.8 129.0L352.4 130.3L350.8 131.5L349.2 132.7L347.6 133.9L346.0 134.9L344.3 135.9L342.6 136.9L340.9 137.8L339.1 138.6L337.3 139.5L335.5 140.2L333.6 140.9L331.7 141.6L329.8 142.2L327.9 142.8L326.0 143.4L324.0 143.9L322.1 144.4L320.1 144.9L318.1 145.4L316.1 145.8L314.1 146.2L312.1 146.6L310.1 146.9L308.1 147.3L306.0 147.6L304.0 147.9L302.0 148.2L300.0 148.5L298.0 148.8L296.0 149.1L294.0 149.4L292.0 149.7L290.0 150.0L288.1 150.3L286.1 150.6L284.2 150.9L282.3 151.3L280.4 151.6L278.6 152.0"/>
<path d="M275.5 69.2L277.6 69.5L279.7 69.8L281.8 70.1L283.8 70.4L285.9 70.8L287.9 71.3L289.8 71.8L291.8 72.3L293.7 72.9L295.6 73.5L297.5 74.2L299.3 74.9L301.1 75.6L302.9 76.4L304.7 77.3L306.4 78.2L308.1 79.2L309.8 80.2L311.5 81.3L313.2 82.4L314.8 83.6L316.4 84.9L318.0 86.2L319.6 87.6L321.1 89.1L322.6 90.6L324.1 92.1L325.5 93.8L326.8 95.4L328.1 97.1L329.3 98.9L330.4 100.6L331.3 102.5L332.2 104.3L332.9 106.1L333.4 108.0L333.8 109.9L334.0 111.7L334.0 113.6L333.9 115.4L333.5 117.3L332.9 119.1L332.1 120.8L331.0 122.5L329.8 124.2L328.5 125.8L327.1 127.5L325.6 129.1L324.1 130.7L322.6 132.2L321.1 133.8L319.7 135.4L318.5 136.9L317.4 138.5L316.5 140.1"/>
<path d="M275.8 72.5L277.6 72.9L279.5 73.4L281.3 73.9L283.2 74.5L285.1 75.1L286.9 75.8L288.8 76.5L290.6 77.2L292.5 78.0L294.3 78.8L296.1 79.7L298.0 80.5L299.8 81.5L301.6 82.4L303.4 83.5L305.2 84.5L306.9 85.6L308.6 86.8L310.2 88.0L311.8 89.3L313.3 90.7L314.7 92.1L316.1 93.6L317.4 95.2L318.6 96.8L319.7 98.5L320.7 100.2L321.6 102.0L322.4 103.8L323.1 105.6L323.7 107.4L324.1 109.3L324.4 111.1L324.6 113.0L324.6 114.9L324.5 116.7L324.2 118.6L323.9 120.4L323.4 122.3L322.8 124.1L322.1 125.9L321.3 127.7L320.4 129.5L319.4 131.3L318.4 133.1L317.3 134.8L316.1 136.6L314.9 138.3L313.6 140.0L312.3 141.7L310.9 143.4L309.5 145.0L308.1 146.6L306.7 148.2L305.3 149.8L303.9 151.3L302.5 152.8L301.1 154.3L299.7 155.8L298.4 157.2L297.0 158.6L295.7 160.0L294.4 161.4L293.1 162.8L291.8 164.2L290.5 165.7L289.2 167.1L288.0 168.5L286.7 170.0L285.5 171.5L284.3 173.0L283.0 174.5L281.8 176.1L280.6 177.7L279.4 179.4L278.1 181.2L276.9 183.0"/>
<path d="M276.1 163.7L277.7 165.2L279.1 166.8L280.4 168.4L281.6 170.0L282.7 171.7L283.6 173.5L284.5 175.2L285.2 177.0L285.8 178.8L286.4 180.7L286.8 182.5L287.2 184.4L287.5 186.3L287.7 188.3L287.9 190.2L288.0 192.2L288.0 194.1L288.0 196.1L287.9 198.1L287.8 200.1L287.6 202.1L287.4 204.1L287.2 206.1L287.0 208.1L286.7 210.2L286.4 212.2L286.1 214.2L285.8 216.2L285.4 218.2L285.1 220.2L284.7 222.2L284.3 224.2L283.9 226.2L283.5 228.2L283.1 230.2L282.7 232.2L282.3 234.2L281.9 236.2L281.4 238.2L281.0 240.2L280.6 242.2L280.2 244.2L279.8 246.1L279.4 248.1L279.0 250.1L278.7 252.1L278.3 254.1L278.0 256.1L277.7 258.1L277.4 260.1L277.1 262.1L276.8 264.1L276.6 266.1L276.4 268.1L276.2 270.0L276.0 272.0L275.9 274.0L275.8 276.0L275.8 278.0L275.7 280.0L275.7 282.0L275.8 284.0L275.9 285.9L276.0 287.9" stroke-width="1.2"/>
<path d="M275.7 164.2L277.4 165.4L279.1 166.8L280.6 168.3L281.9 169.9L283.2 171.7L284.2 173.5L285.2 175.4L285.9 177.4L286.5 179.4L286.9 181.5L287.2 183.6"/>
</g>
<g font-family="'Liberation Serif', 'Times New Roman', serif" font-size="14.0" fill="#000">
<text x="42.0" y="31.4" text-anchor="end" font-size="13.6">600</text>
<text x="42.0" y="75.2" text-anchor="end" font-size="13.6">500</text>
<text x="42.0" y="119.1" text-anchor="end" font-size="13.6">400</text>
<text x="42.0" y="163.0" text-anchor="end" font-size="13.6">300</text>
<text x="42.0" y="206.9" text-anchor="end" font-size="13.6">200</text>
<text x="42.0" y="250.8" text-anchor="end" font-size="13.6">100</text>
<text x="42.0" y="294.2" text-anchor="end" font-size="13.6">0</text>
<text x="46.9" y="304.7" text-anchor="middle" font-size="13.6">0</text>
<text x="275.2" y="304.7" text-anchor="middle" font-size="13.6">0</text>
<text x="77.3" y="304.7" text-anchor="middle" font-size="13.6">10</text>
<text x="305.7" y="304.7" text-anchor="middle" font-size="13.6">10</text>
<text x="107.8" y="304.7" text-anchor="middle" font-size="13.6">20</text>
<text x="336.1" y="304.7" text-anchor="middle" font-size="13.6">20</text>
<text x="138.2" y="304.7" text-anchor="middle" font-size="13.6">30</text>
<text x="366.6" y="304.7" text-anchor="middle" font-size="13.6">30</text>
<text x="168.7" y="304.7" text-anchor="middle" font-size="13.6">40</text>
<text x="397.1" y="304.7" text-anchor="middle" font-size="13.6">40</text>
<text x="199.2" y="304.7" text-anchor="middle" font-size="13.6">50</text>
<text x="427.5" y="304.7" text-anchor="middle" font-size="13.6">50</text>
<text x="229.6" y="304.7" text-anchor="middle" font-size="13.6">60</text>
<text x="458.0" y="304.7" text-anchor="middle" font-size="13.6">60</text>
<text x="270.7" y="9.6" text-anchor="end" font-size="13.6">650</text>
<text x="270.8" y="114.3" text-anchor="end" font-size="13.6">100</text>
<text x="271.0" y="203.8" text-anchor="end" font-size="13.6">10</text>
<text x="270.3" y="293.6" text-anchor="end" font-size="13.6">4</text>
<text x="138.6" y="324.7" text-anchor="middle"><tspan font-style="italic">P</tspan> [MPa]</text>
<text x="367.2" y="324.7" text-anchor="middle"><tspan font-style="italic">P</tspan> [MPa]</text>
<text transform="translate(9.7,146.6) rotate(-90)" text-anchor="middle"><tspan font-style="italic">T</tspan> [K]</text>
<text x="74.8" y="72.7" text-anchor="start">N<tspan dy="3.3" font-size="10.6">2</tspan></text>
<text x="146.4" y="52.8" text-anchor="start">A</text>
<text x="187.5" y="41.4" text-anchor="start">CH<tspan dy="3.3" font-size="10.6">4</tspan></text>
<text x="88.4" y="159.4" text-anchor="start">C<tspan dy="3.3" font-size="10.6">2</tspan><tspan dy="-3.3">H</tspan><tspan dy="3.3" font-size="10.6">6</tspan></text>
<text x="145.0" y="243.1" text-anchor="start">Ne</text>
<text x="115.8" y="246.3" text-anchor="start">H<tspan dy="3.3" font-size="10.6">2</tspan></text>
<text x="65.1" y="257.1" text-anchor="start">D<tspan dy="3.3" font-size="10.6">2</tspan></text>
<text x="67.0" y="284.8" text-anchor="start">He</text>
<text x="288.8" y="30.3" text-anchor="start">N<tspan dy="3.3" font-size="10.6">2</tspan></text>
<text x="387.4" y="28.6" text-anchor="start">A</text>
<text x="312.6" y="55.6" text-anchor="start">C<tspan dy="3.3" font-size="10.6">2</tspan><tspan dy="-3.3">H</tspan><tspan dy="3.3" font-size="10.6">6</tspan></text>
<text x="346.1" y="71.8" text-anchor="start">CH<tspan dy="3.3" font-size="10.6">4</tspan></text>
<text x="375.6" y="107.7" text-anchor="start">Ne</text>
<text x="342.9" y="113.1" text-anchor="start">H<tspan dy="3.3" font-size="10.6">2</tspan></text>
<text x="298.8" y="124.0" text-anchor="start">D<tspan dy="3.3" font-size="10.6">2</tspan></text>
<text x="293.3" y="213.2" text-anchor="start">He</text>
</g>
</svg></body></html>
